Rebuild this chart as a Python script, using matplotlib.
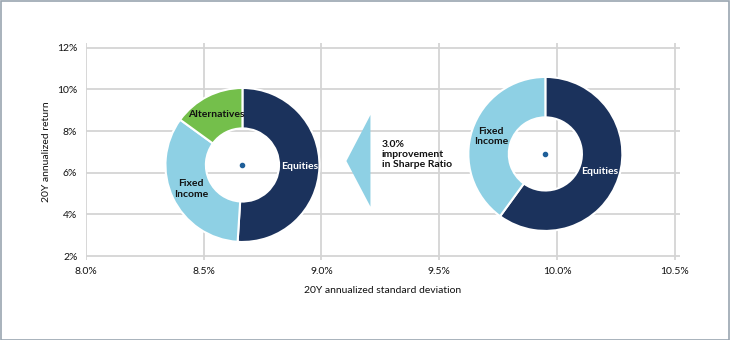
import matplotlib
matplotlib.use("Agg")
import matplotlib.pyplot as plt
from matplotlib.patches import Polygon, Rectangle
import numpy as np

# Axis ticks
std_ticks = [8.0, 8.5, 9.0, 9.5, 10.0, 10.5]
std_tick_labels = ["8.0%", "8.5%", "9.0%", "9.5%", "10.0%", "10.5%"]
ret_ticks = [2, 4, 6, 8, 10, 12]
ret_tick_labels = ["2%", "4%", "6%", "8%", "10%", "12%"]

# Portfolio risk / return (percent)
portfolio_std = [8.665, 9.95]
portfolio_ret = [6.37, 6.90]

# Allocations of each portfolio
mix_a_labels = ["Equities", "Fixed\nIncome", "Alternatives"]
mix_a_weights = [51, 34, 15]
mix_b_labels = ["Equities", "Fixed\nIncome"]
mix_b_weights = [60, 40]

sharpe_gain = 3.0

NAVY = "#1b325c"
LIGHT = "#8ed0e4"
GREEN = "#74bf4b"
seg_colors = {"Equities": NAVY, "Fixed\nIncome": LIGHT, "Alternatives": GREEN}
seg_text = {"Equities": "white", "Fixed\nIncome": "#111111", "Alternatives": "#111111"}

plt.rcParams["font.family"] = ["Lato", "DejaVu Sans"]

W, H = 730, 340
fig = plt.figure(figsize=(W / 100, H / 100), dpi=100)
fig.patch.set_facecolor("white")

ax = fig.add_axes([85.7 / W, 1 - 260 / H, 594.3 / W, 217.3 / H])
ax.set_xlim(8.0, 10.5 + 5 / 236)
ax.set_ylim(2 - 4 / 20.83, 12 + 5 / 20.83)
ax.set_xticks(std_ticks)
ax.set_xticklabels(std_tick_labels)
ax.set_yticks(ret_ticks)
ax.set_yticklabels(ret_tick_labels)
ax.tick_params(length=0, labelsize=7.5, colors="#111111")
ax.tick_params(axis="x", pad=5)
ax.tick_params(axis="y", pad=6)
for s in ax.spines.values():
    s.set_visible(False)
ax.grid(True, color="#d4d4d4", lw=1.3)
ax.set_axisbelow(True)
ax.set_xlabel("20Y annualized standard deviation", fontsize=7.5, color="#111111", labelpad=7)
ax.set_ylabel("20Y annualized return", fontsize=7.5, color="#111111", labelpad=4)

# Arrow pointing from the second portfolio back to the first
arrow = Polygon([[9.106, 6.56], [9.208, 8.77], [9.208, 4.37]], closed=True,
                facecolor=LIGHT, edgecolor="none", zorder=2)
ax.add_patch(arrow)
ax.text(9.256, 6.88, f"{sharpe_gain:.1f}%\nimprovement\nin Sharpe Ratio",
        fontsize=7.5, fontweight="bold", color="#111111", ha="left", va="center",
        linespacing=1.1)


def donut(cx, cy, labels, weights, r_px=77, hole=0.475):
    px, py = ax.transData.transform((cx, cy))
    dax = fig.add_axes([(px - r_px) / W, (py - r_px) / H, 2 * r_px / W, 2 * r_px / H])
    wedges, _ = dax.pie(weights, colors=[seg_colors[l] for l in labels],
                        startangle=90, counterclock=False, radius=1,
                        wedgeprops=dict(width=1 - hole, edgecolor="white", linewidth=1.5))
    dax.plot([0], [0], "o", ms=3, color="#1f5f99", zorder=4)
    for w, lab in zip(wedges, labels):
        mid = np.deg2rad((w.theta1 + w.theta2) / 2)
        rr = (1 + hole) / 2
        dax.text(rr * np.cos(mid), rr * np.sin(mid), lab, ha="center", va="center",
                 fontsize=7.5, fontweight="bold", color=seg_text[lab], zorder=5,
                 linespacing=1.25)
    dax.set_xlim(-1, 1)
    dax.set_ylim(-1, 1)
    dax.set_aspect("equal")
    dax.axis("off")


donut(portfolio_std[0], portfolio_ret[0], mix_a_labels, mix_a_weights)
donut(portfolio_std[1], portfolio_ret[1], mix_b_labels, mix_b_weights)

# Frame around the figure
fig.add_artist(Rectangle((0.5 / W, 0.5 / H), 1 - 1.5 / W, 1 - 1.5 / H, transform=fig.transFigure,
                         fill=False, edgecolor="#9aa5b0", lw=1.2))

fig.savefig("out.png", dpi=100)
